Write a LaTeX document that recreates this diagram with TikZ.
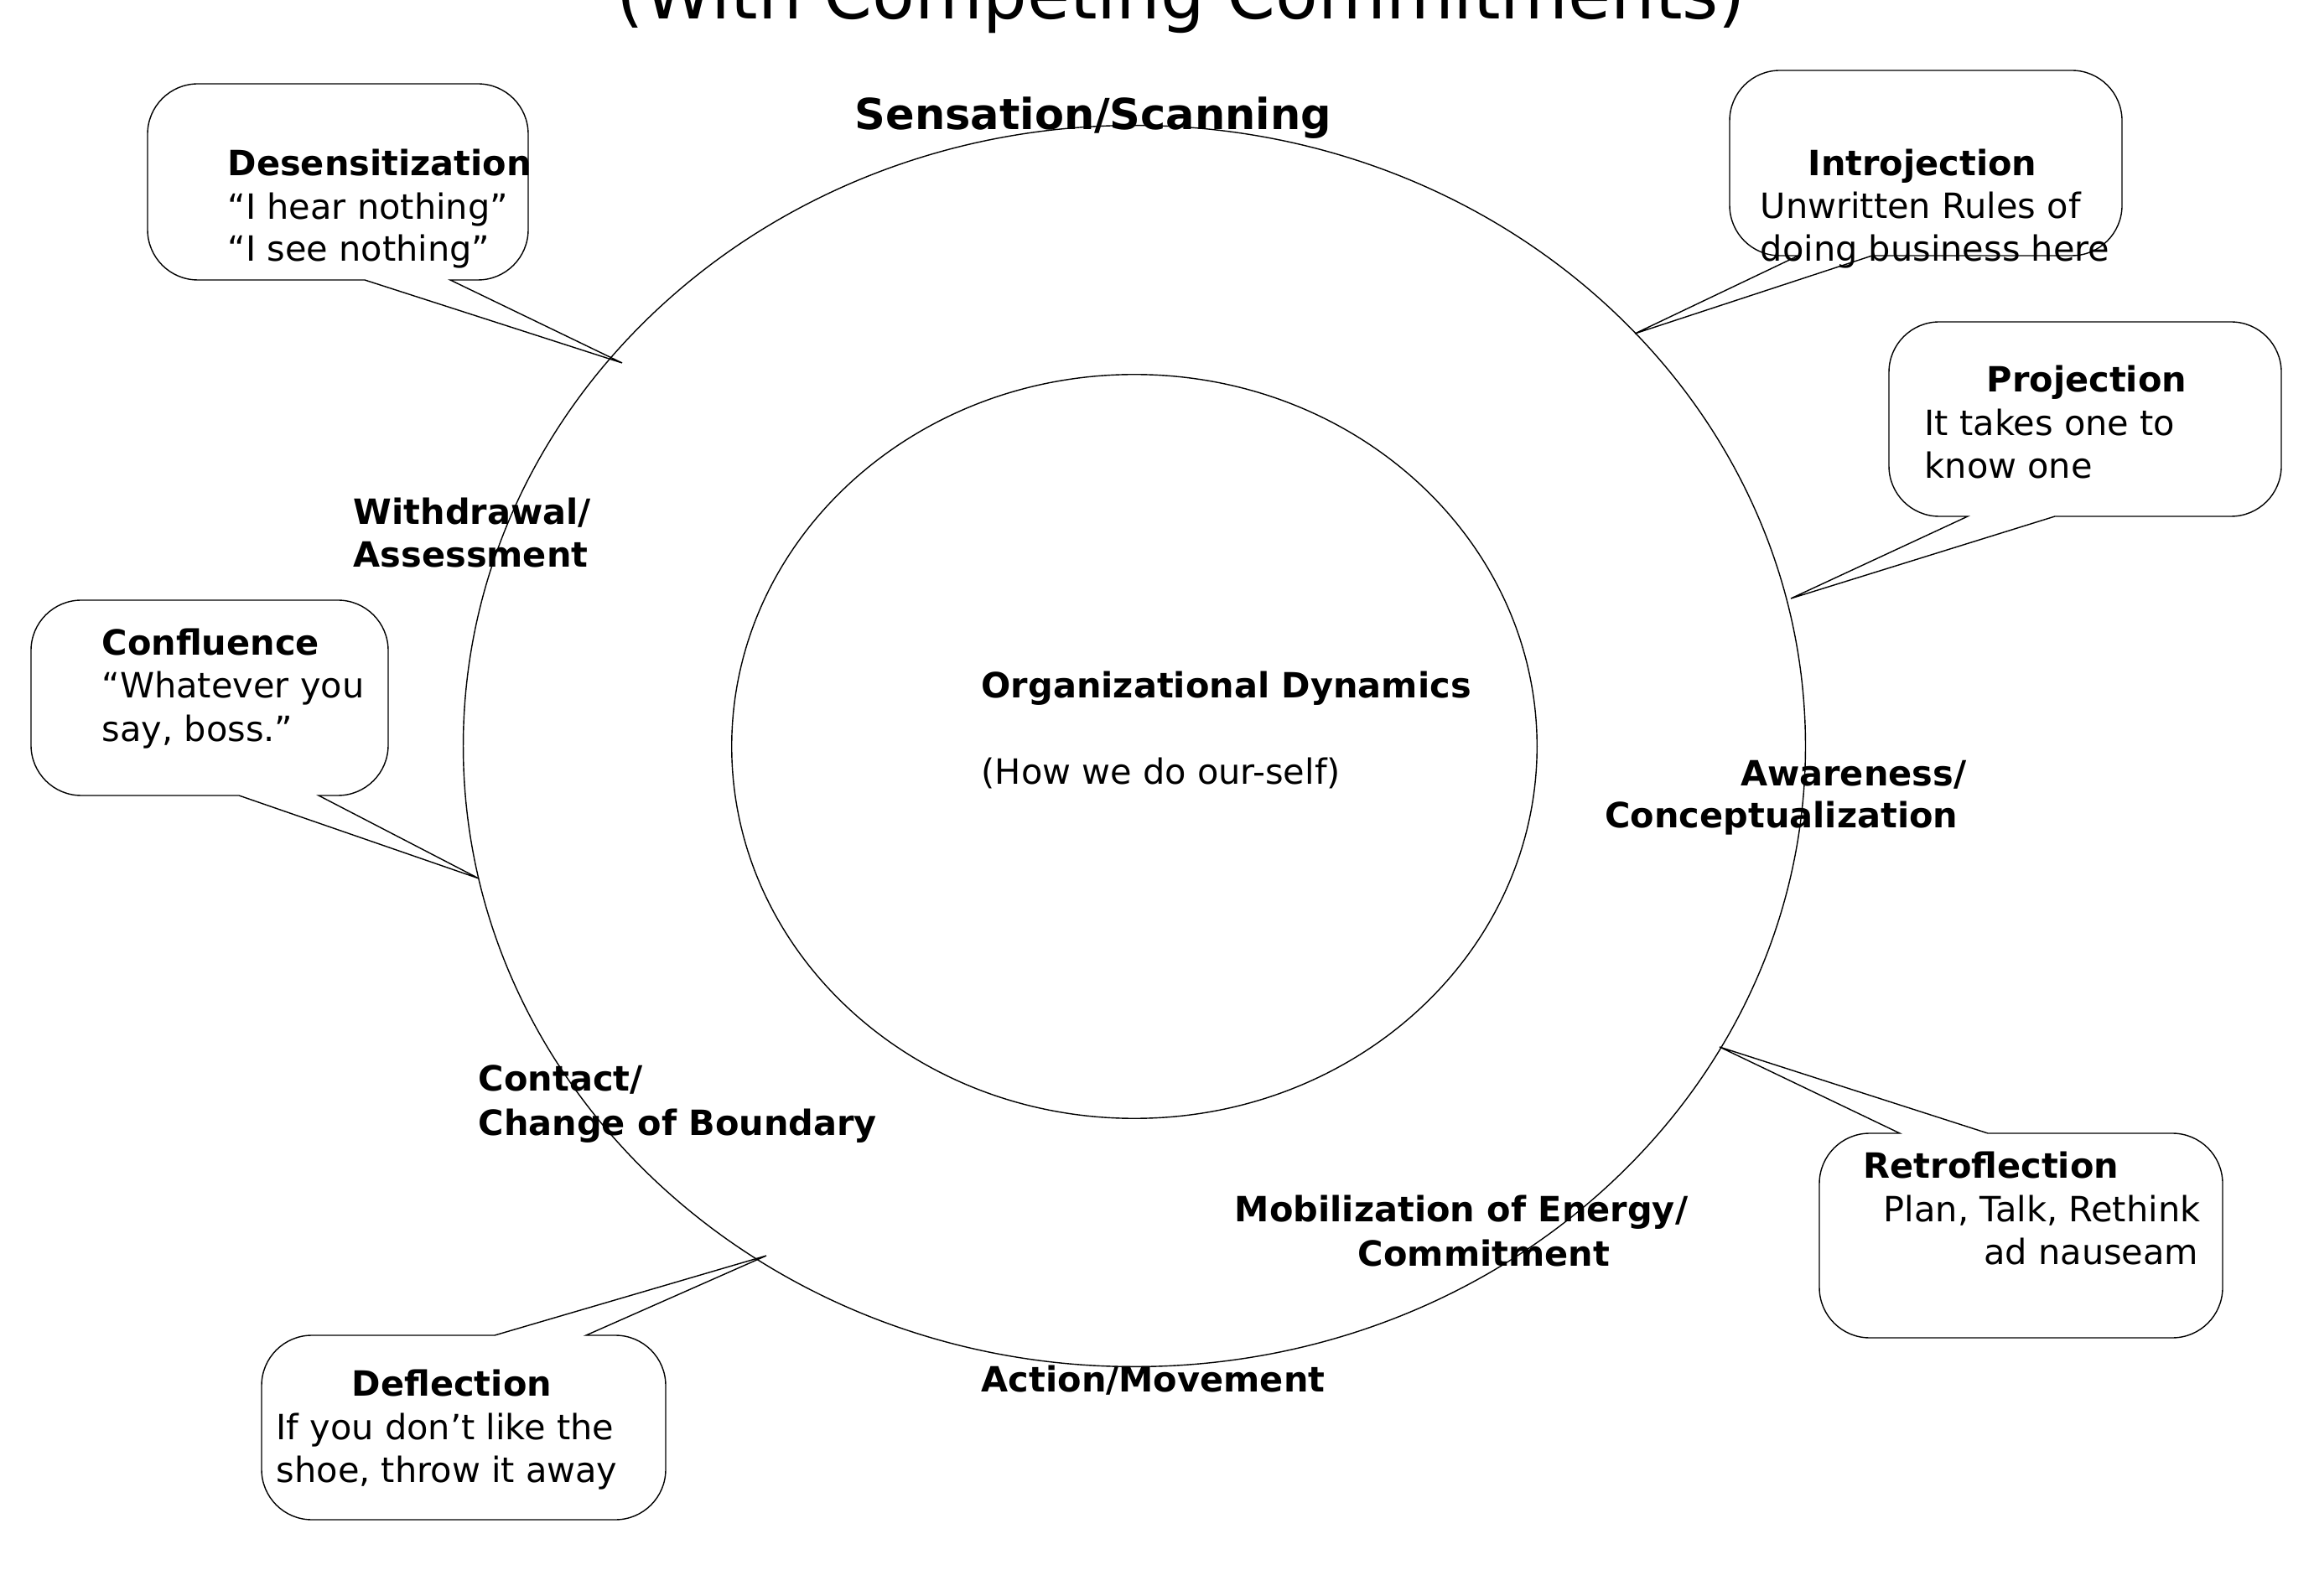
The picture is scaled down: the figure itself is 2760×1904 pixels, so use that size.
\documentclass[tikz,border=0pt]{standalone}
\usepackage{fontspec}
\setmainfont{DejaVu Sans}
\usetikzlibrary{shapes.geometric}
\newcommand{\bubR}{60}
\newcommand{\bubK}{33.14}
% rounded box x0 y0 x1 y1, tail on bottom edge between b1,b2, tip (tx,ty)
\newcommand{\bubbleB}[8]{%
  \draw[bubble] (#5,#4) -- (#1+\bubR,#4)
    .. controls (#1+\bubR-\bubK,#4) and (#1,#4-\bubR+\bubK) .. (#1,#4-\bubR)
    -- (#1,#2+\bubR)
    .. controls (#1,#2+\bubR-\bubK) and (#1+\bubR-\bubK,#2) .. (#1+\bubR,#2)
    -- (#3-\bubR,#2)
    .. controls (#3-\bubR+\bubK,#2) and (#3,#2+\bubR-\bubK) .. (#3,#2+\bubR)
    -- (#3,#4-\bubR)
    .. controls (#3,#4-\bubR+\bubK) and (#3-\bubR+\bubK,#4) .. (#3-\bubR,#4)
    -- (#6,#4) -- (#7,#8) -- cycle;}
% same, tail on top edge
\newcommand{\bubbleT}[8]{%
  \draw[bubble] (#5,#2) -- (#1+\bubR,#2)
    .. controls (#1+\bubR-\bubK,#2) and (#1,#2+\bubR-\bubK) .. (#1,#2+\bubR)
    -- (#1,#4-\bubR)
    .. controls (#1,#4-\bubR+\bubK) and (#1+\bubR-\bubK,#4) .. (#1+\bubR,#4)
    -- (#3-\bubR,#4)
    .. controls (#3-\bubR+\bubK,#4) and (#3,#4-\bubR+\bubK) .. (#3,#4-\bubR)
    -- (#3,#2+\bubR)
    .. controls (#3,#2+\bubR-\bubK) and (#3-\bubR+\bubK,#2) .. (#3-\bubR,#2)
    -- (#6,#2) -- (#7,#8) -- cycle;}
\begin{document}
\begin{tikzpicture}[x=0.01cm, y=-0.01cm,
  bubble/.style={line width=0.4pt, line join=miter},
  ring/.style={draw, ellipse, line width=0.4pt, inner sep=0pt, outer sep=0pt},
  hd/.style={font=\fontsize{11.8}{14.6}\selectfont\bfseries, inner sep=0pt},
  bd/.style={font=\fontsize{11.8}{14.6}\selectfont, inner sep=0pt}]
\useasboundingbox (0,0) rectangle (2760,1904);
\clip (0,0) rectangle (2760,1904);
\fill[white] (0,0) rectangle (2760,1904);

% title (cut off at top)
\node[inner sep=0pt, anchor=base, font=\fontsize{23.6}{28}\selectfont] (title) at (1409,23) {(With Competing Commitments)};

% circles
\node[ring, minimum width=16cm, minimum height=14.8cm] (outer) at (1353,890) {};
\node[ring, minimum width=9.6cm, minimum height=8.87cm] (inner) at (1353,890.5) {};

% centre text
\node[hd, anchor=base west] (org1) at (1170,833) {Organizational Dynamics};
\node[bd, anchor=base west] (org2) at (1170,936) {(How we do our-self)};

% stage labels
\node[inner sep=0pt, anchor=base, font=\fontsize{14.5}{17}\selectfont\bfseries] (sens) at (1304,155) {Sensation/Scanning};
\node[hd, anchor=base west] (wd1) at (421,626) {Withdrawal/};
\node[hd, anchor=base west] (wd2) at (421,677) {Assessment};
\node[hd, anchor=base east] (aw1) at (2346,938) {Awareness/};
\node[hd, anchor=base east] (aw2) at (2336,988) {Conceptualization};
\node[hd, anchor=base west] (ct1) at (570,1301) {Contact/};
\node[hd, anchor=base west] (ct2) at (570,1354) {Change of Boundary};
\node[hd, anchor=base] (mb1) at (1743,1457) {Mobilization of Energy/};
\node[hd, anchor=base] (mb2) at (1770,1510) {Commitment};
\node[hd, anchor=base west] (act) at (1170,1660) {Action/Movement};

% callout tips
\coordinate (tipDes) at (742,433);
\coordinate (tipInt) at (1950,398);
\coordinate (tipPro) at (2136,714);
\coordinate (tipCon) at (571,1048);
\coordinate (tipDef) at (914,1498);
\coordinate (tipRet) at (2051,1249);

% callout bubbles
\bubbleB{176}{100}{630}{334}{435}{537}{742}{433}
\bubbleB{2063}{84}{2531}{305}{2145}{2233}{1950}{398}
\bubbleB{2253}{384}{2721}{616}{2347}{2451}{2136}{714}
\bubbleB{37}{716}{463}{949}{285}{380}{571}{1048}
\bubbleT{312}{1593}{794}{1813}{590}{699}{914}{1498}
\bubbleT{2170}{1352}{2651}{1596}{2266}{2371}{2051}{1249}

% callout texts
\node[hd, anchor=base west] (des1) at (271,210) {Desensitization};
\node[bd, anchor=base west] (des2) at (271,262) {“I hear nothing”};
\node[bd, anchor=base west] (des3) at (271,312) {“I see nothing”};

\node[hd, anchor=base] (int1) at (2293,210) {Introjection};
\node[bd, anchor=base west] (int2) at (2099,261) {Unwritten Rules of};
\node[bd, anchor=base west] (int3) at (2099,312) {doing business here};

\node[hd, anchor=base] (pro1) at (2489,468) {Projection};
\node[bd, anchor=base west] (pro2) at (2295,520) {It takes one to};
\node[bd, anchor=base west] (pro3) at (2295,571) {know one};

\node[hd, anchor=base west] (con1) at (121,782) {Confluence};
\node[bd, anchor=base west] (con2) at (121,833) {“Whatever you};
\node[bd, anchor=base west] (con3) at (121,885) {say, boss.”};

\node[hd, anchor=base] (def1) at (539,1665) {Deflection};
\node[bd, anchor=base west] (def2) at (329,1717) {If you don’t like the};
\node[bd, anchor=base west] (def3) at (329,1768) {shoe, throw it away};

\node[hd, anchor=base west] (ret1) at (2222,1405) {Retroflection};
\node[bd, anchor=base east] (ret2) at (2625,1457) {Plan, Talk, Rethink};
\node[bd, anchor=base east] (ret3) at (2623,1508) {ad nauseam};
\end{tikzpicture}
\end{document}
